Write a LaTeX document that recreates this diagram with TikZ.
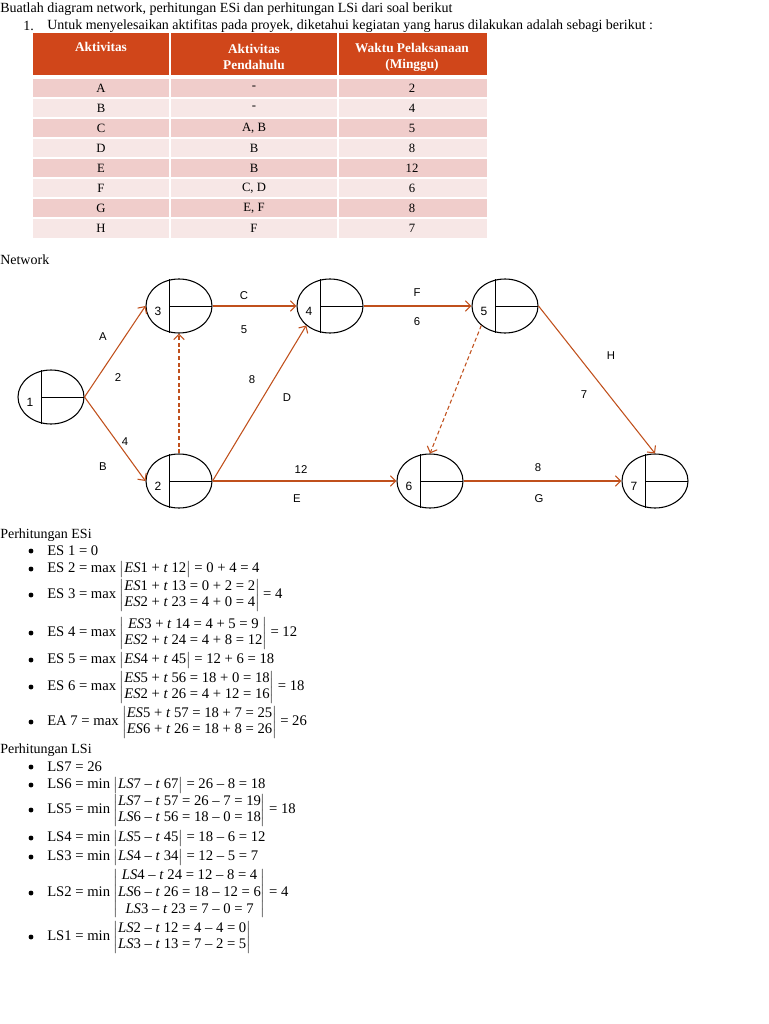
\documentclass[tikz,border=0pt]{standalone}
\usepackage{fontspec}
\setmainfont{Liberation Serif}
\newfontfamily\lsans{Liberation Sans}
\usetikzlibrary{shapes.geometric,arrows.meta}
\definecolor{hdr}{HTML}{D0461A}
\definecolor{rowa}{HTML}{F0CDCB}
\definecolor{rowb}{HTML}{F7E7E6}
\definecolor{arr}{HTML}{C0501C}
\newcommand{\I}[1]{\textit{#1}}
\newcommand{\br}[1]{$\left|\mbox{\begin{tabular}{@{}c@{}}#1\end{tabular}}\right|$}
\begin{document}
\begin{tikzpicture}[x=0.75pt,y=-0.75pt,
  txt/.style={anchor=west,inner sep=0pt,font=\fontsize{10.5}{12}\selectfont},
  eq/.style={anchor=west,inner sep=0pt,font=\fontsize{11}{12.5}\selectfont},
  cell/.style={inner sep=0pt,font=\fontsize{9.5}{11}\selectfont},
  hcell/.style={inner sep=0pt,font=\fontsize{10}{12}\selectfont\bfseries,text=white,align=center},
  ev/.style={draw,ellipse,minimum width=49.5pt,minimum height=40.5pt,inner sep=0pt,thick},
  act/.style={draw=arr,thick,-{Straight Barb[length=4pt]}},
  dum/.style={draw=arr,thick,densely dashed,-{Straight Barb[length=4pt]}},
  lab/.style={font=\lsans\fontsize{8.5}{9}\selectfont,inner sep=0pt},
  bul/.style={circle,fill,inner sep=1.3pt}]
\useasboundingbox (0,0) rectangle (768,1024);
\node[txt] (t1) at (0,9) {Buatlah diagram network, perhitungan ESi dan perhitungan LSi dari soal berikut};
\node[txt] (t2n) at (23,26) {1.};
\node[txt] (t2) at (47,26) {Untuk menyelesaikan aktifitas pada proyek, diketahui kegiatan yang harus dilakukan adalah sebagi berikut :};
% table
\fill[hdr] (33,33) rectangle (487,75);
\draw[white,line width=1.2pt] (170,33)--(170,75) (338,33)--(338,75);
\node[hcell] (h1) at (101,47) {Aktivitas};
\node[hcell] (h2) at (254,57) {Aktivitas\\Pendahulu};
\node[hcell] (h3) at (412,57) {Waktu Pelaksanaan\\(Minggu)};
\foreach \r/\a/\c [count=\i] in {A/-/2,B/-/4,C/{A, B}/5,D/B/8,E/B/12,F/{C, D}/6,G/{E, F}/8,H/F/7}{
  \pgfmathsetmacro{\yy}{78+(\i-1)*20}
  \ifodd\i \def\rc{rowa}\else\def\rc{rowb}\fi
  \fill[\rc] (33,\yy) rectangle (487,\yy+20);
  \draw[white,line width=1.2pt] (170,\yy)--(170,\yy+20) (338,\yy)--(338,\yy+20) (33,\yy)--(487,\yy);
  \node[cell] at (101,\yy+10) {\r};
  \node[cell] at (254,\yy+10) {\a};
  \node[cell] at (412,\yy+10) {\c};
}
\node[txt] (nw) at (0,260) {Network};
% events
\foreach \n/\x/\y in {1/51/397,3/179/306,4/330/306,5/505/306,2/179/481,6/430/481,7/655/481}{
  \node[ev] (e\n) at (\x,\y) {};
  \draw[semithick] (\x-10,\y-27)--(\x-10,\y+27) (\x-10,\y)--(\x+33,\y);
  \node[lab,font=\lsans\fontsize{9}{9}\selectfont] at (\x-21,\y+5) {\n};
}
\draw[act] (e1.east) -- (e3.west);
\draw[act] (e1.east) -- (e2.west);
\draw[act] (e3.east) -- (e4.west);
\draw[dum] (e2.north) -- (e3.south);
\draw[act] (e2.east) -- (e4.south west);
\draw[act] (e2.east) -- (e6.west);
\draw[act] (e4.east) -- (e5.west);
\draw[dum] (e5.south west) -- (e6.north);
\draw[act] (e5.east) -- (e7.north);
\draw[act] (e6.east) -- (e7.west);
\foreach \t/\x/\y in {A/103/337,2/118/378,4/125/442,B/103/467,C/244/296,5/244/330,8/252/380,D/287/398,12/301/470,E/297/499,F/417/293,6/417/322,H/611/356,7/584/395,8/538/468,G/539/499}
  \node[lab] at (\x,\y) {\t};
% ESi
\node[txt] (pe) at (0,535) {Perhitungan ESi};
\foreach \y in {551,569,595,633,660,687,722} \node[bul] at (31,\y) {};
\node[eq] at (47,551) {ES 1 = 0};
\node[eq] at (47,569) {ES 2 = max \br{\I{ES}1 + \I{t} 12} = 0 + 4 = 4};
\node[eq] at (47,595) {ES 3 = max \br{\I{ES}1 + \I{t} 13 = 0 + 2 = 2\\\I{ES}2 + \I{t} 23 = 4 + 0 = 4} = 4};
\node[eq] at (47,633) {ES 4 = max \br{\I{ES}3 + \I{t} 14 = 4 + 5 = 9\\\I{ES}2 + \I{t} 24 = 4 + 8 = 12} = 12};
\node[eq] at (47,660) {ES 5 = max \br{\I{ES}4 + \I{t} 45} = 12 + 6 = 18};
\node[eq] at (47,687) {ES 6 = max \br{\I{ES}5 + \I{t} 56 = 18 + 0 = 18\\\I{ES}2 + \I{t} 26 = 4 + 12 = 16} = 18};
\node[eq] at (47,722) {EA 7 = max \br{\I{ES}5 + \I{t} 57 = 18 + 7 = 25\\\I{ES}6 + \I{t} 26 = 18 + 8 = 26} = 26};
% LSi
\node[txt] (pl) at (0,750) {Perhitungan LSi};
\foreach \y in {767,785,810,838,857,893,937} \node[bul] at (31,\y) {};
\node[eq] at (47,767) {LS7 = 26};
\node[eq] at (47,785) {LS6 = min \br{\I{LS}7 -- \I{t} 67} = 26 -- 8 = 18};
\node[eq] at (47,810) {LS5 = min \br{\I{LS}7 -- \I{t} 57 = 26 -- 7 = 19\\\I{LS}6 -- \I{t} 56 = 18 -- 0 = 18} = 18};
\node[eq] at (47,838) {LS4 = min \br{\I{LS}5 -- \I{t} 45} = 18 -- 6 = 12};
\node[eq] at (47,857) {LS3 = min \br{\I{LS}4 -- \I{t} 34} = 12 -- 5 = 7};
\node[eq] at (47,893) {LS2 = min \br{\I{LS}4 -- \I{t} 24 = 12 -- 8 = 4\\\I{LS}6 -- \I{t} 26 = 18 -- 12 = 6\\\I{LS}3 -- \I{t} 23 = 7 -- 0 = 7} = 4};
\node[eq] at (47,937) {LS1 = min \br{\I{LS}2 -- \I{t} 12 = 4 -- 4 = 0\\\I{LS}3 -- \I{t} 13 = 7 -- 2 = 5}};
\end{tikzpicture}
\end{document}
